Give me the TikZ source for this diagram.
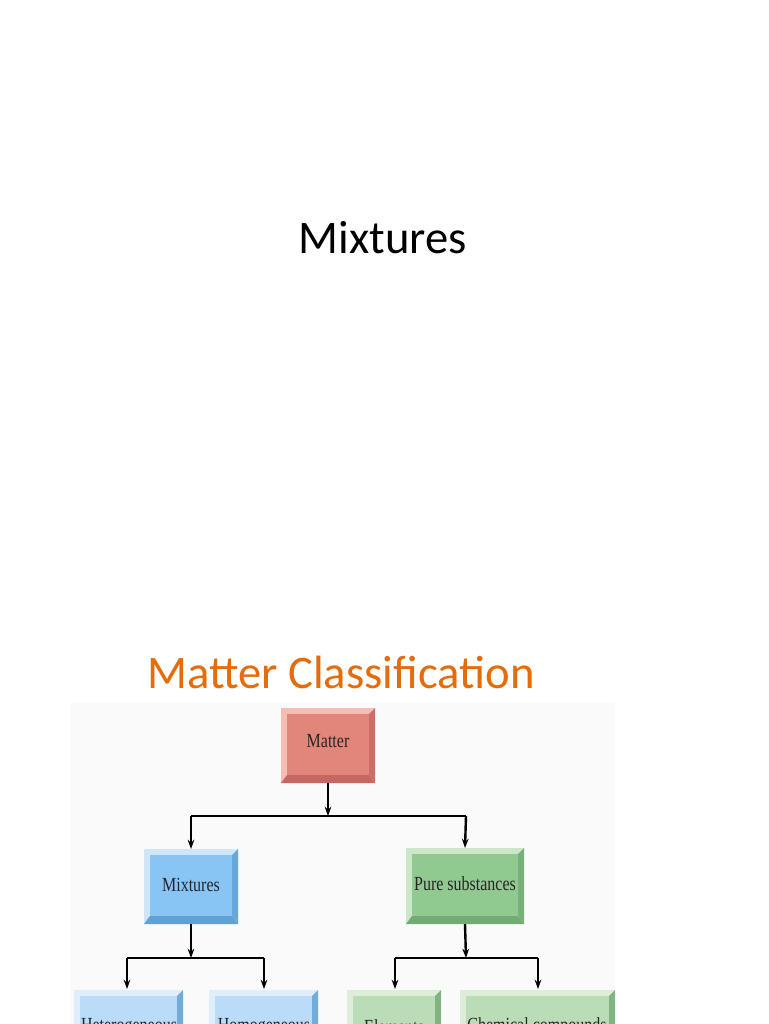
\documentclass[tikz,border=0pt]{standalone}
\usepackage{fontspec}
\usetikzlibrary{calc,arrows.meta}
\setmainfont{Liberation Serif}
\newfontfamily\calib{Carlito}
\begin{document}
\begin{tikzpicture}[x=0.75pt,y=-0.75pt,
  lbl/.style={font=\fontsize{15}{17}\selectfont, text=black!85, xscale=0.8},
  conn/.style={line width=1.8pt,-{Stealth[length=7pt,width=5pt]}},
  bar/.style={line width=1.8pt}]
\useasboundingbox (0,0) rectangle (768,1024);
\clip (0,0) rectangle (768,1024);
\fill[white] (0,0) rectangle (768,1024);
\node[font=\calib\fontsize{35}{40}\selectfont] (t1) at (383,238) {Mixtures};
\node[font=\calib\fontsize{35}{40}\selectfont, text={rgb,255:red,228;green,108;blue,10}] (t2) at (341,672) {Matter Classification};
\fill[black!2] (70,703) rectangle (615,1024);
% bevel macro
\newcommand{\bevbox}[8]{% name x1 y1 x2 y2 light main dark
  \fill[#6] (#2,#3) rectangle (#4,#5);
  \fill[#8] (#2,#5) -- (#2+6,#5-8) -- (#4-6,#5-8) -- (#4,#5) -- cycle;
  \fill[#8!80!#7] (#4,#3) -- (#4-6,#3+6) -- (#4-6,#5-8) -- (#4,#5) -- cycle;
  \fill[#7] (#2+6,#3+6) rectangle (#4-6,#5-8);
  \coordinate (#1) at ({(#2+#4)/2},{(#3+#5)/2});
  \coordinate (#1-n) at ({(#2+#4)/2},#3);
  \coordinate (#1-s) at ({(#2+#4)/2},#5);}
\definecolor{rl}{RGB}{244,190,180}\definecolor{rm}{RGB}{226,134,124}\definecolor{rd}{RGB}{196,104,98}
\definecolor{bl}{RGB}{206,230,250}\definecolor{bm}{RGB}{136,196,244}\definecolor{bd}{RGB}{96,160,210}
\definecolor{gl}{RGB}{204,230,200}\definecolor{gm}{RGB}{144,202,144}\definecolor{gd}{RGB}{116,170,118}
\definecolor{bl2}{RGB}{222,238,252}\definecolor{bm2}{RGB}{186,220,248}
\definecolor{gl2}{RGB}{220,238,216}\definecolor{gm2}{RGB}{186,220,182}
\bevbox{matter}{281}{708}{375}{783}{rl}{rm}{rd}
\bevbox{mix}{144}{849}{238}{924}{bl}{bm}{bd}
\bevbox{pure}{406}{848}{524}{924}{gl}{gm}{gd}
\bevbox{het}{74}{990}{183}{1080}{bl2}{bm2}{bd}
\bevbox{hom}{209}{990}{318}{1080}{bl2}{bm2}{bd}
\bevbox{elem}{347}{990}{441}{1080}{gl2}{gm2}{gd}
\bevbox{chem}{460}{990}{615}{1080}{gl2}{gm2}{gd}
\node[lbl] (lm) at ($(matter)+(0,-4)$) {Matter};
\node[lbl] (lx) at ($(mix)+(0,-2)$) {Mixtures};
\node[lbl] (lp) at ($(pure)+(0,-2)$) {Pure substances};
\node[lbl] (lh) at (129,1027) {Heterogeneous};
\node[lbl] (lo) at (264,1027) {Homogeneous};
\node[lbl] (le) at (394,1027) {Elements};
\node[lbl] (lc) at (537,1027) {Chemical compounds};
% connectors
\coordinate (j1) at (328,816);
\coordinate (j1l) at (191,816);\coordinate (j1r) at (466,816);
\draw[conn] (matter-s) -- (j1);
\draw[bar] (j1l) -- (j1r);
\draw[conn] (j1l) -- (mix-n);
\draw[conn] (j1r) -- (pure-n);
\coordinate (j2) at (191,958);\coordinate (j2l) at (127,958);\coordinate (j2r) at (264,958);
\coordinate (hetn) at (127,989);\coordinate (homn) at (264,989);
\draw[conn] (mix-s) -- (j2);
\draw[bar] (j2l) -- (j2r);
\draw[conn] (j2l) -- (hetn);
\draw[conn] (j2r) -- (homn);
\coordinate (j3) at (466,958);\coordinate (j3l) at (395,958);\coordinate (j3r) at (538,958);
\coordinate (elemn) at (395,989);\coordinate (chemn) at (538,989);
\draw[conn] (pure-s) -- (j3);
\draw[bar] (j3l) -- (j3r);
\draw[conn] (j3l) -- (elemn);
\draw[conn] (j3r) -- (chemn);
\end{tikzpicture}
\end{document}
